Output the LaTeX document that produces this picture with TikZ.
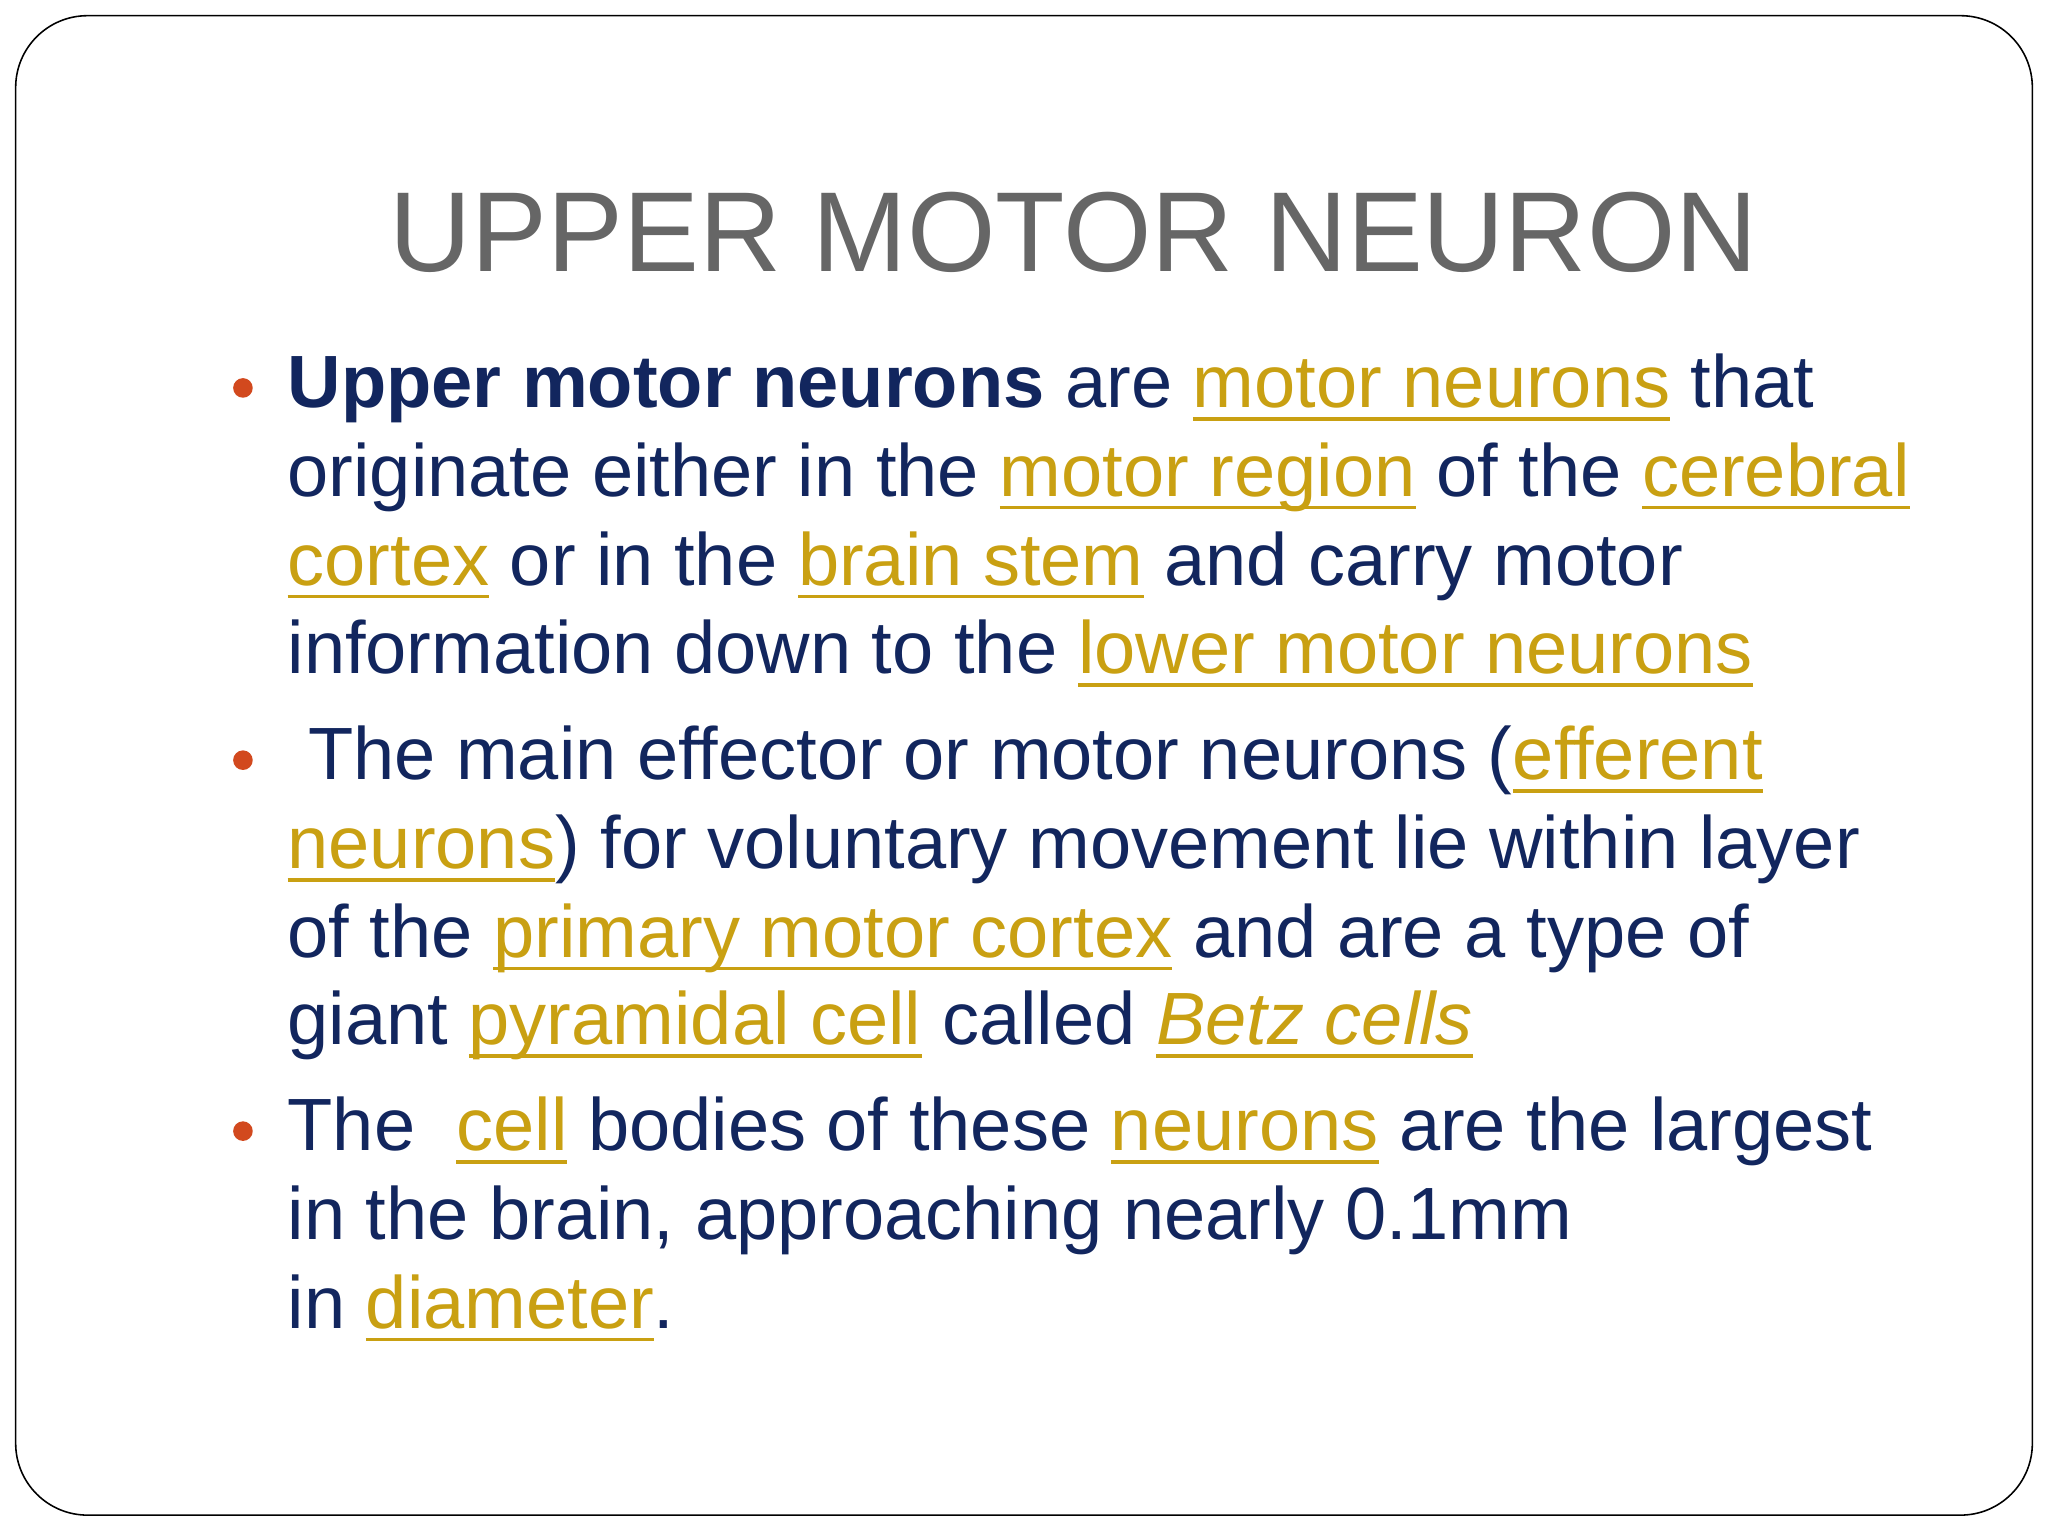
\documentclass[tikz,border=0pt]{standalone}
\usepackage{fontspec}
\setmainfont{Liberation Sans}
\definecolor{navy}{HTML}{12265E}
\definecolor{gold}{HTML}{C9A012}
\definecolor{ttl}{HTML}{666666}
\definecolor{bul}{HTML}{D2491E}
\newsavebox\lkbox
\newcommand\lk[1]{{\color{gold}\sbox\lkbox{#1}\rlap{\rule[-10pt]{\wd\lkbox}{2.8pt}}\usebox\lkbox}}
\tikzset{ln/.style={anchor=base west,inner sep=0pt,text=navy,font=\fontsize{56.7}{68}\selectfont},
bl/.style={circle,fill=bul,minimum size=15pt,inner sep=0pt}}
\begin{document}
\begin{tikzpicture}[x=1pt,y=-1pt]
\useasboundingbox (0,0) rectangle (1568,1176);
\fill[white] (0,0) rectangle (1568,1176);
\draw[line width=1.2pt,rounded corners=55pt] (12,12) rectangle (1556,1160);
\node[anchor=base,inner sep=0pt,text=ttl,font=\fontsize{87}{92}\selectfont] (t) at (822,208) {UPPER MOTOR NEURON};
\node[bl] (b1) at (186,297) {};
\node[bl] (b2) at (186,582) {};
\node[bl] (b3) at (186,866) {};
\node[ln] (l1) at (220,312) {\textbf{Upper motor neurons} are \lk{motor neurons} that};
\node[ln] (l2) at (220,380) {originate either in the \lk{motor region} of the \lk{cerebral}};
\node[ln] (l3) at (220,448) {\lk{cortex} or in the \lk{brain stem} and carry motor};
\node[ln] (l4) at (220,516) {information down to the \lk{lower motor neurons}};
\node[ln] (l5) at (220,597) {\ The main effector or motor neurons (\lk{efferent}};
\node[ln] (l6) at (220,665) {\lk{neurons}) for voluntary movement lie within layer};
\node[ln] (l7) at (220,733) {of the \lk{primary motor cortex} and are a type of};
\node[ln] (l8) at (220,800) {giant \lk{pyramidal cell} called \lk{\textit{Betz cells}}};
\node[ln] (l9) at (220,881) {The \ \lk{cell} bodies of these \lk{neurons} are the largest};
\node[ln] (l10) at (220,949) {in the brain, approaching nearly 0.1mm};
\node[ln] (l11) at (220,1017) {in \lk{diameter}.};
\end{tikzpicture}
\end{document}
